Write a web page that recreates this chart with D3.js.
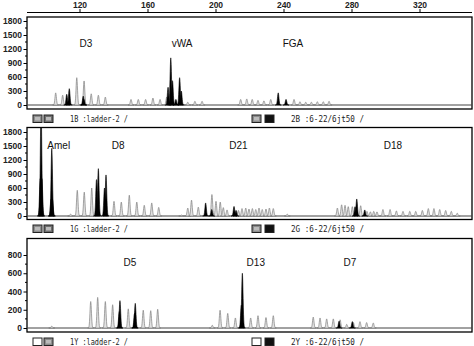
<!DOCTYPE html>
<html><head><meta charset="utf-8">
<script src="https://cdn.jsdelivr.net/npm/d3@7"></script>
<style>body{margin:0;background:#fff}svg{display:block}</style>
</head><body><svg id="c" width="474" height="346"></svg>
<script>
// ---------- data ----------
const xTickValues = [120, 160, 200, 240, 280, 320];
const yTicksBlue = [0, 300, 600, 900, 1200, 1500, 1800];
const yTicksGreen = [0, 300, 600, 900, 1200, 1500, 1800];
const yTicksYellow = [0, 200, 400, 600, 800];

const lociBlue = ["D3", "vWA", "FGA"];
const lociBlueBp = [123.5, 180, 245.3];
const lociGreen = ["Amel", "D8", "D21", "D18"];
const lociGreenBp = [107.5, 142.4, 213.2, 304.1];
const lociYellow = ["D5", "D13", "D7"];
const lociYellowBp = [149.4, 223.4, 278.8];

// blue: ladder (grey) and sample (black) peaks, size in bp, height in RFU
const blueLadderBp = [105.7,109.8,118.1,122.4,126.6,130.8,134.9,150.0,154.3,158.6,162.9,167.1,171.0,183.4,187.6,191.8,
  214.5,218.1,221.3,224.7,228.2,232.2,245.9,249.4,252.8,256.1,259.6,263.1,266.5];
const blueLadderH = [260,210,585,515,240,210,170,120,120,120,150,120,170,60,80,80,
  120,130,120,100,90,120,120,70,60,60,70,70,80];
const blueSampleBp = [112.2,113.7,121.9,122.3,171.8,173.4,174.4,176.4,178.6,179.6,236.6,241.2];
const blueSampleH  = [230,350,190,120,380,1010,520,120,585,300,260,120];

// green
const greenLadderBp = [114.5,118.4,122.5,126.9,140.0,144.3,149.0,153.4,157.8,162.2,166.3,
  179.8,183.4,185.6,189.6,197.6,200.0,202.5,204.3,206.5,213.2,215.3,217.5,219.4,221.4,223.4,225.3,227.2,229.4,231.4,233.7,241.9,
  271.4,273.9,275.9,277.8,280.2,285.1,288.8,290.8,292.8,294.7,298.2,302.4,306.1,310.0,314.0,317.5,321.4,324.9,328.2,331.6,335.1,338.4,341.9];
const greenLadderH = [40,550,510,600,315,300,445,300,230,280,185,
  20,170,340,190,460,315,300,180,130,120,160,170,150,160,140,170,140,150,170,160,40,
  170,240,230,200,200,220,100,90,100,90,140,140,110,100,100,100,120,160,160,140,120,100,60];
const greenSampleBp = [96.6,97.1,97.6,103.0,103.4,103.8,129.7,130.8,134.4,135.3,193.9,197.5,210.6,211.8,281.8,282.8,287.5];
const greenSampleH  = [800,2400,800,360,1450,360,780,1015,600,880,280,140,205,120,200,365,130];

// yellow
const yellowLadderBp = [103.4,126.3,130.4,134.9,139.2,148.4,157.2,161.6,165.7,
  197.8,202.4,206.9,211.4,220.4,224.7,229.4,233.7,
  257.2,261.2,265.1,269.0,273.0,276.9,280.8,284.7,288.6,292.5];
const yellowLadderH = [20,290,335,290,255,210,195,190,205,
  30,195,160,110,110,135,115,135,
  120,110,100,100,90,40,60,70,60,55];
const yellowSampleBp = [143.1,143.5,152.1,152.5,214.9,215.5,272.4,280.2];
const yellowSampleH  = [180,300,160,270,250,600,75,70];

// ---------- layout ----------
const svg = d3.select("#c");
const left = 27, right = 472;
const x = d3.scaleLinear().domain([120, 320]).range([80, 420]);

const panels = [
  {top:17, bottom:109, y0:105, y1:21, max:1800, ticks:yTicksBlue, minor:150,
   ladBp:blueLadderBp, ladH:blueLadderH, smpBp:blueSampleBp, smpH:blueSampleH,
   loci:lociBlue, lociBp:lociBlueBp, labelY:47,
   legY:115, leg:["1B :ladder-2 /","2B :6-22/6jt50 /"], icons:[["#8d8d8d","#6e6e6e"],["#8d8d8d","#111"]]},
  {top:127.5, bottom:219.5, y0:216, y1:132, max:1800, ticks:yTicksGreen, minor:150,
   ladBp:greenLadderBp, ladH:greenLadderH, smpBp:greenSampleBp, smpH:greenSampleH,
   loci:lociGreen, lociBp:lociGreenBp, labelY:149,
   legY:225, leg:["1G :ladder-2 /","2G :6-22/6jt50 /"], icons:[["#8d8d8d","#6e6e6e"],["#8d8d8d","#111"]]},
  {top:238.5, bottom:332, y0:328, y1:255, max:800, ticks:yTicksYellow, minor:100,
   ladBp:yellowLadderBp, ladH:yellowLadderH, smpBp:yellowSampleBp, smpH:yellowSampleH,
   loci:lociYellow, lociBp:lociYellowBp, labelY:266,
   legY:338, leg:["1Y :ladder-2 /","2Y :6-22/6jt50 /"], icons:[["#fff","#8d8d8d"],["#fff","#111"]]}
];

// top axis
const topAxis = svg.append("g").attr("transform","translate(0,12.5)");
topAxis.append("line").attr("x1",left).attr("x2",right).attr("stroke","#000").attr("stroke-width",1.2);
xTickValues.forEach(v=>{
  topAxis.append("line").attr("x1",x(v)).attr("x2",x(v)).attr("y1",0).attr("y2",-3.5).attr("stroke","#000");
  topAxis.append("text").attr("x",x(v)).attr("y",-4.5).attr("text-anchor","middle")
    .attr("font-family","Liberation Sans, Arial, sans-serif").attr("font-size",8.5).attr("font-weight","bold")
    .attr("fill","#222").text(v);
});

const sigma = 0.72;
function peakPath(bp, h, y){
  const cx = x(bp);
  const pts = [];
  for(let d=-3; d<=3.001; d+=0.2){
    pts.push([cx+d, y(h*Math.exp(-d*d/(2*sigma*sigma)))]);
  }
  return d3.area().x(p=>p[0]).y0(y(0)).y1(p=>p[1])(pts);
}

panels.forEach((p,i)=>{
  const y = d3.scaleLinear().domain([0,p.max]).range([p.y0,p.y1]);
  const g = svg.append("g");
  const clipId = "clip"+i;
  svg.append("clipPath").attr("id",clipId).append("rect")
    .attr("x",left).attr("y",p.top).attr("width",right-left).attr("height",p.bottom-p.top);
  // frame
  g.append("rect").attr("x",left).attr("y",p.top).attr("width",right-left).attr("height",p.bottom-p.top)
    .attr("fill","#fff").attr("stroke","#000").attr("stroke-width",1.3);
  const plot = g.append("g").attr("clip-path",`url(#${clipId})`);
  // baseline trace
  plot.append("line").attr("x1",left).attr("x2",right).attr("y1",y(0)).attr("y2",y(0))
    .attr("stroke","#444").attr("stroke-width",1);
  // ladder peaks
  p.ladBp.forEach((bp,k)=>{
    plot.append("path").attr("d",peakPath(bp,p.ladH[k],y))
      .attr("fill","#e2e2e2").attr("stroke","#808080").attr("stroke-width",0.7);
  });
  // sample peaks
  p.smpBp.forEach((bp,k)=>{
    plot.append("path").attr("d",peakPath(bp,p.smpH[k],y))
      .attr("fill","#000").attr("stroke","#000").attr("stroke-width",0.6);
  });
  // y axis
  const yAxis = d3.axisLeft(y).tickValues(p.ticks).tickFormat(d3.format("d")).tickSize(3.5).tickPadding(1.5);
  const ag = g.append("g").attr("transform",`translate(${left},0)`).call(yAxis);
  ag.select(".domain").remove();
  ag.selectAll("text").attr("font-family","Liberation Sans, Arial, sans-serif").attr("font-size",8.5)
    .attr("font-weight","bold").attr("fill","#222");
  const minorVals = d3.range(p.minor, p.max, p.minor*2);
  ag.selectAll(".minor").data(minorVals).join("line").attr("class","minor")
    .attr("x1",0).attr("x2",-2).attr("y1",d=>y(d)).attr("y2",d=>y(d)).attr("stroke","#000");
  // locus labels
  p.loci.forEach((name,k)=>{
    g.append("text").attr("x",x(p.lociBp[k])).attr("y",p.labelY).attr("text-anchor","middle")
      .attr("font-family","Liberation Sans, Arial, sans-serif").attr("font-size",10)
      .attr("fill","#111").text(name);
  });
  // legend row
  const legX = [[33,44,70,58],[252,265,291,73]];
  legX.forEach((L,k)=>{
    [0,1].forEach(j=>{
      const ix = L[j];
      g.append("rect").attr("x",ix).attr("y",p.legY).attr("width",9).attr("height",7.5)
        .attr("fill",p.icons[k][j]).attr("stroke","#222").attr("stroke-width",1);
      if(p.icons[k][j] !== "#111" && p.icons[k][j] !== "#fff")
        g.append("rect").attr("x",ix+2).attr("y",p.legY+2).attr("width",5).attr("height",3.5).attr("fill","#bbb");
    });
    g.append("text").attr("x",L[2]).attr("y",p.legY+7).attr("textLength",L[3]).attr("lengthAdjust","spacingAndGlyphs")
      .attr("font-family","DejaVu Sans Mono, monospace").attr("font-size",8).attr("fill","#222").text(p.leg[k]);
  });
});
</script></body></html>
